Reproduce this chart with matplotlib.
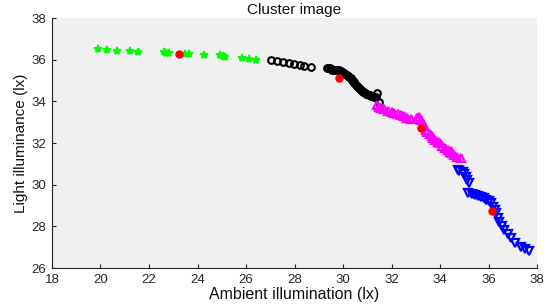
import matplotlib
matplotlib.use("Agg")
import matplotlib.pyplot as plt

plt.rcParams['font.family'] = ['Liberation Sans', 'DejaVu Sans']

# Cluster 1 (green stars)
green_x = [19.91, 20.26, 20.67, 21.20, 21.54, 22.60, 22.70, 22.81, 23.50, 23.63, 24.28,
           24.94, 25.05, 25.15, 25.84, 26.11, 26.43]
green_y = [36.51, 36.46, 36.43, 36.42, 36.37, 36.35, 36.34, 36.33, 36.28, 36.27, 36.22,
           36.21, 36.18, 36.13, 36.07, 36.02, 35.98]

# Cluster 2 (black circles)
black_x = [27.04, 27.29, 27.52, 27.76, 27.97, 28.21, 28.41, 28.66,
           29.35, 29.40, 29.45, 29.50, 29.56, 29.62, 29.68, 29.75, 29.83, 29.90, 29.95,
           30.00, 30.04, 30.10, 30.15, 30.20, 30.25, 30.31, 30.36, 30.40, 30.44, 30.47,
           30.52, 30.56, 30.60, 30.66, 30.70, 30.73, 30.78, 30.82, 30.86, 30.90, 30.95,
           31.00, 31.05, 31.10, 31.15, 31.20, 31.28, 31.36, 31.42, 31.48]
black_y = [35.97, 35.92, 35.89, 35.84, 35.79, 35.74, 35.70, 35.63,
           35.61, 35.60, 35.58, 35.55, 35.52, 35.51, 35.50, 35.50, 35.50, 35.46, 35.42,
           35.38, 35.35, 35.30, 35.26, 35.21, 35.17, 35.11, 35.05, 35.00, 34.95, 34.90,
           34.78, 34.74, 34.70, 34.62, 34.58, 34.54, 34.50, 34.46, 34.43, 34.40, 34.37,
           34.34, 34.31, 34.29, 34.27, 34.25, 34.22, 34.19, 34.39, 33.98]

# Cluster 3 (magenta up-triangles)
mag_x = [31.42, 31.50, 31.55, 31.70, 31.85, 32.00, 32.10, 32.25, 32.40, 32.52, 32.65,
         32.79, 33.05, 33.14, 33.20, 33.28, 33.35, 33.40, 33.48, 33.58, 33.65, 33.72,
         33.80, 33.90, 34.00, 34.10, 34.20, 34.31, 34.40, 34.45, 34.50, 34.58, 34.70, 34.86]
mag_y = [33.82, 33.75, 33.66, 33.62, 33.55, 33.47, 33.42, 33.38, 33.34, 33.31, 33.22,
         33.15, 33.20, 33.26, 33.10, 32.95, 32.80, 32.65, 32.54, 32.42, 32.35, 32.25,
         32.15, 32.06, 31.98, 31.88, 31.78, 31.66, 31.58, 31.62, 31.50, 31.42, 31.35, 31.26]

# Cluster 4 (blue down-triangles)
blue_x = [34.72, 34.80, 34.93, 35.00, 35.07, 35.12, 35.20,
          35.14, 35.30, 35.45, 35.58, 35.69, 35.80, 35.90, 36.00, 36.10, 36.18, 36.25,
          36.31, 36.38, 36.44, 36.55, 36.65, 36.80, 36.93, 37.10, 37.34, 37.50, 37.68]
blue_y = [30.70, 30.68, 30.62, 30.50, 30.38, 30.25, 30.06,
          29.58, 29.55, 29.50, 29.45, 29.42, 29.35, 29.28, 29.20, 29.10, 28.95, 28.80,
          28.62, 28.42, 28.22, 28.02, 27.82, 27.62, 27.42, 27.22, 27.02, 26.92, 26.83]

# Centroids
cent_x = [23.25, 29.83, 33.21, 36.14]
cent_y = [36.27, 35.13, 32.72, 28.75]

x_ticks = [18, 20, 22, 24, 26, 28, 30, 32, 34, 36, 38]
y_ticks = [26, 28, 30, 32, 34, 36, 38]

fig = plt.figure(figsize=(5.5, 3.06), dpi=100)
ax = fig.add_axes([0.0945, 0.124, 0.882, 0.817])
ax.set_facecolor('#f0f0f0')

ax.plot(green_x, green_y, linestyle='none', marker='*', ms=6, color='#00ff00',
        mec='#00ff00', mew=1.2)
ax.plot(black_x, black_y, linestyle='none', marker='o', ms=4.8, mfc='none',
        mec='black', mew=1.5)
ax.plot(mag_x, mag_y, linestyle='none', marker='^', ms=5.5, mfc='none',
        mec='#ff00ff', mew=1.6)
ax.plot(blue_x, blue_y, linestyle='none', marker='v', ms=5.5, mfc='none',
        mec='#0000ff', mew=1.6)
ax.plot(cent_x, cent_y, linestyle='none', marker='o', ms=5, color='#ff0000',
        mec='#ff0000')

ax.set_xlim(18, 38)
ax.set_ylim(26, 38)
ax.set_xticks(x_ticks)
ax.set_yticks(y_ticks)
ax.tick_params(direction='in', length=3, width=0.8, colors='#262626', labelsize=9.5,
               pad=4)
for s in ['top', 'right']:
    ax.spines[s].set_visible(False)
for s in ['left', 'bottom']:
    ax.spines[s].set_color('#262626')
    ax.spines[s].set_linewidth(0.8)

ax.set_title('Cluster image', fontsize=11, color='#111111', pad=3)
ax.set_xlabel('Ambient illumination (lx)', fontsize=11.5, color='#111111', labelpad=1)
ax.set_ylabel('Light illuminance (lx)', fontsize=11, color='#111111', labelpad=3,
              family=['DejaVu Sans Condensed', 'Liberation Sans Narrow',
                      'Liberation Sans', 'DejaVu Sans'])

fig.savefig('out.png', dpi=100)
